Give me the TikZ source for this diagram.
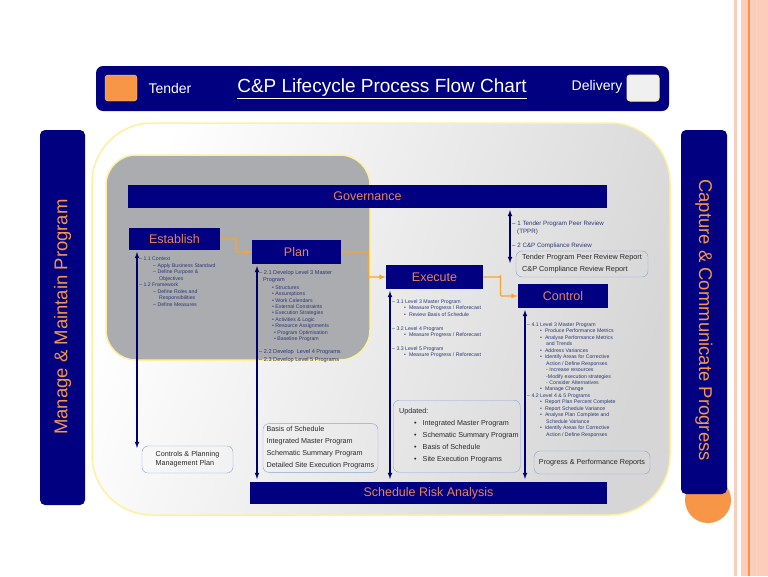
\documentclass[tikz,border=0pt]{standalone}
\usepackage{fontspec}
\setmainfont{Liberation Sans}
\usetikzlibrary{calc}
\usetikzlibrary{arrows.meta}
\usetikzlibrary{positioning}
\tikzset{>=latex}

\definecolor{navy}{RGB}{0,0,128}
\definecolor{lblue}{RGB}{140,162,212}
\definecolor{tangerine}{RGB}{247,150,70}
\definecolor{salmon}{RGB}{233,130,88}
\definecolor{flowarrow}{RGB}{247,165,50}
\definecolor{butter}{RGB}{255,240,160}
\definecolor{listtxt}{RGB}{45,55,115}
\definecolor{boxtxt}{RGB}{40,40,40}
\definecolor{panelgrey}{RGB}{170,172,176}
\definecolor{pinkside}{RGB}{252,205,188}

\tikzset{
	stage/.style={fill=navy, text=salmon, font=\fontsize{12.5}{14}\selectfont, inner sep=0pt},
	sidebar/.style={fill=navy, rounded corners=5pt},
	sidetext/.style={text=tangerine, font=\fontsize{18.5}{20}\selectfont},
	lst/.style={text=listtxt, align=left, inner sep=0pt, anchor=north west, font=\fontsize{5.2}{6.5}\selectfont},
	outbox/.style={draw=lblue, rounded corners=6pt, text=boxtxt, align=left, inner sep=3pt, font=\fontsize{7.2}{12}\selectfont},
	flow/.style={flowarrow, line width=1.2pt, ->, rounded corners=1pt},
	link/.style={navy!85!black, line width=1.1pt, <->}
}

\begin{document}
\begin{tikzpicture}[x=1pt,y=-1pt]
			\useasboundingbox (0,0) rectangle (768,576);
			\fill[white] (0,0) rectangle (768,576);
			% right page trim
			\fill[pinkside] (734,0) rectangle (737,576);
			\fill[pinkside] (741,0) rectangle (768,576);
			\draw[tangerine, line width=1.2pt] (749,0) -- (749,576);
			\draw[tangerine!40, line width=0.5pt] (756,0) -- (756,576);
			% header
			\fill[navy, rounded corners=7pt] (96,66) rectangle (669,111);
			\filldraw[fill=tangerine, draw=butter!80!tangerine, rounded corners=3pt] (105,75) rectangle (137,101);
			\filldraw[fill=black!6, draw=butter, line width=1pt, rounded corners=3pt] (627,75) rectangle (659,101);
			\node[text=white, font=\fontsize{14}{16}\selectfont] (tender) at (170,88) {Tender};
			\node[text=white, font=\fontsize{19}{21}\selectfont] (title) at (382,89) {\underline{C\&P Lifecycle Process Flow Chart}};
			\node[text=white, font=\fontsize{14}{16}\selectfont] (delivery) at (597,87) {Delivery};
			% side bars
			\fill[tangerine] (708,500) circle (23);
			\fill[sidebar] (40,130) rectangle (85,505);
			\node[sidetext, rotate=90] (manage) at (62.5,317) {Manage \& Maintain Program};
			\fill[sidebar] (681,130) rectangle (727,494);
			\node[sidetext, rotate=-90] (capture) at (704,320) {Capture \& Communicate Progress};
			% panels
			\shade[left color=white, right color=black!16, shading angle=70, draw=butter, line width=1.5pt, rounded corners=60pt] (92,123) rectangle (670,515);
			\filldraw[fill=panelgrey, draw=butter, line width=1.5pt, rounded corners=30pt] (106,155) rectangle (370,360);
			% stages
			\node[stage, minimum width=479pt, minimum height=23pt] (gov) at (367.5,196.5) {Governance};
			\node[stage, minimum width=91pt, minimum height=22pt] (est) at (174.5,239) {Establish};
			\node[stage, minimum width=89pt, minimum height=24pt] (plan) at (296.5,252) {Plan};
			\node[stage, minimum width=97pt, minimum height=24pt] (exe) at (434.5,277) {Execute};
			\node[stage, minimum width=90pt, minimum height=24pt] (ctl) at (563,296) {Control};
			\node[stage, minimum width=357pt, minimum height=22pt] (sra) at (428.5,493) {Schedule Risk Analysis};
			\draw[flow] (est.east) -| ($(est.east)!0.5!(plan.west|-est.east)$) |- (plan.west);
			\draw[flow] (plan.east) -| ($(plan.east)!0.6!(exe.west|-plan.east)$) |- (exe.west);
			\draw[flow] (exe.east) -| ($(exe.east)!0.5!(ctl.west|-exe.east)$) |- (ctl.west);
			% outputs
			\node[outbox, minimum width=91pt, minimum height=27pt, font=\fontsize{7.2}{9}\selectfont] (cpmp) at (187.5,459.5) {Controls \& Planning\\Management Plan};
			\node[outbox, minimum width=115pt, minimum height=48pt] (planout) at (320.5,448) {Basis of Schedule\\Integrated Master Program\\Schematic Summary Program\\Detailed Site Execution Programs};
			\node[outbox, minimum width=127pt, minimum height=72pt, anchor=north west] (upd) at (393,400) {};
			\node[text=boxtxt, align=left, anchor=north west, inner sep=0pt, font=\fontsize{7.2}{12}\selectfont] (updtxt) at (399,408) {Updated:\\
				\hspace*{15pt}\textbullet\hspace{6pt}Integrated Master Program\\
				\hspace*{15pt}\textbullet\hspace{6pt}Schematic Summary Program\\
				\hspace*{15pt}\textbullet\hspace{6pt}Basis of Schedule\\
				\hspace*{15pt}\textbullet\hspace{6pt}Site Execution Programs};
			\node[outbox, minimum width=116pt, minimum height=23pt] (ppr) at (592,462.5) {Progress \& Performance Reports};
			\node[outbox, minimum width=132pt, minimum height=26pt, font=\fontsize{7.3}{12}\selectfont] (rev) at (582,264) {Tender Program Peer Review Report\\C\&P Compliance Review Report};
			% vertical links
			\coordinate (esttop) at (137,252);
			\coordinate (estend) at (137,448);
			\coordinate (govtop) at (510,210);
			\coordinate (govend) at (510,263);
			\coordinate (plantop) at (257,266);
			\coordinate (planend) at (257,479);
			\coordinate (exetop) at (390,291);
			\coordinate (exeend) at (390,479);
			\coordinate (ctltop) at (525,310);
			\coordinate (ctlend) at (525,479);
			\draw[link] (esttop) -- (estend);
			\draw[link] (plantop) -- (planend);
			\draw[link] (exetop) -- (exeend);
			\draw[link] (ctltop) -- (ctlend);
			\draw[link] (govtop) -- (govend);
			% lists
			\node[lst] (estlist) at (139,257) {– 1.1 Context\\
				\hspace*{14pt}– Apply Business Standard\\
				\hspace*{14pt}– Define Purpose \&\\
				\hspace*{20pt}Objectives\\
				– 1.2 Framework\\
				\hspace*{14pt}– Define Roles and\\
				\hspace*{20pt}Responsibilities\\
				\hspace*{14pt}– Define Measures};
			\node[lst, font=\fontsize{5.6}{7.3}\selectfont] (planlist) at (259,270) {– 2.1 Develop Level 3 Master\\
				\hspace*{4pt}Program};
			\node[lst, font=\fontsize{5.2}{6.4}\selectfont] (planbul) at (272,285.5) {• Structures\\
				• Assumptions\\
				• Work Calendars\\
				• External Constraints\\
				• Execution Strategies\\
				• Activities \& Logic\\
				• Resource Assignments\\
				\hspace*{2pt}• Program Optimisation\\
				\hspace*{2pt}• Baseline Program};
			\node[lst, font=\fontsize{5.6}{8}\selectfont] (planlow) at (259,349.5) {– 2.2 Develop\ \ Level 4 Programs\\
				– 2.3 Develop Level 5 Programs};
			\node[lst] (exelist1) at (392,299.5) {– 3.1 Level 3 Master Program\\
				\hspace*{12pt}•\hspace{3pt}Measure Progress / Reforecast\\
				\hspace*{12pt}•\hspace{3pt}Review Basis of Schedule};
			\node[lst] (exelist2) at (392,326.5) {– 3.2 Level 4 Program\\
				\hspace*{12pt}•\hspace{3pt}Measure Progress / Reforecast};
			\node[lst] (exelist3) at (392,346.5) {– 3.3 Level 5 Program\\
				\hspace*{12pt}•\hspace{3pt}Measure Progress / Reforecast};
			\node[lst, font=\fontsize{6.2}{8}\selectfont] (govlist) at (512,220.5) {– 1 Tender Program Peer Review\\
				\hspace*{5pt}(TPPR)};
			\node[lst, font=\fontsize{6.2}{8}\selectfont] (govlist2) at (512,242.5) {– 2 C\&P Compliance Review};
			\node[lst, font=\fontsize{5.2}{6.45}\selectfont] (ctllist) at (527,322.5) {– 4.1 Level 3 Master Program\\
				\hspace*{13pt}•\hspace{3pt}Produce Performance Metrics\\
				\hspace*{13pt}•\hspace{3pt}Analyse Performance Metrics\\
				\hspace*{19pt}and Trends\\
				\hspace*{13pt}•\hspace{3pt}Address Variances\\
				\hspace*{13pt}•\hspace{3pt}Identify Areas for Corrective\\
				\hspace*{19pt}Action / Define Responses\\
				\hspace*{19pt}- Increase resources\\
				\hspace*{19pt}-Modify execution strategies\\
				\hspace*{19pt}- Consider Alternatives\\
				\hspace*{13pt}•\hspace{3pt}Manage Change\\
				– 4.2 Level 4 \& 5 Programs\\
				\hspace*{13pt}•\hspace{3pt}Report Plan Percent Complete\\
				\hspace*{13pt}•\hspace{3pt}Report Schedule Variance\\
				\hspace*{13pt}•\hspace{3pt}Analyse Plan Complete and\\
				\hspace*{19pt}Schedule Variance\\
				\hspace*{13pt}•\hspace{3pt}Identify Areas for Corrective\\
				\hspace*{19pt}Action / Define Responses};
		\end{tikzpicture}
\end{document}
